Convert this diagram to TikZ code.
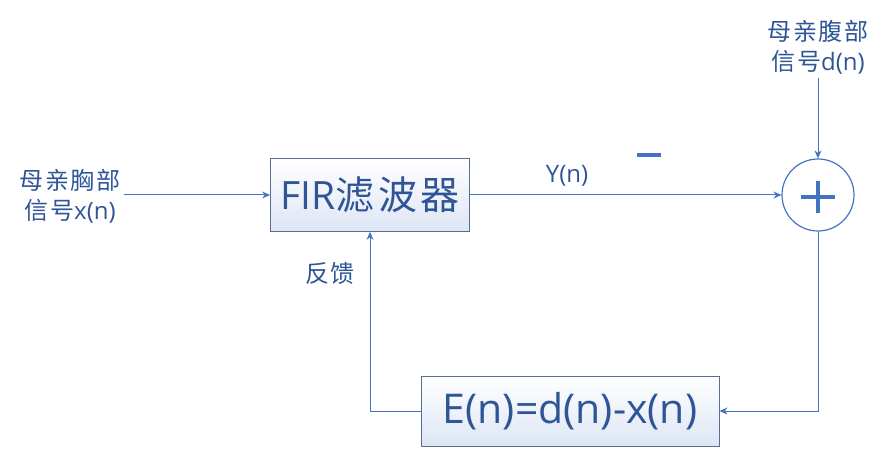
\documentclass[tikz,border=0pt]{standalone}
\usepackage{fontspec}
\setmainfont{Open Sans}
\newfontfamily\cjk{Noto Sans CJK SC}[LetterSpace=8]
\usetikzlibrary{arrows.meta}
\definecolor{ln}{HTML}{4472C4}
\definecolor{tx}{HTML}{2F5597}
\definecolor{bd}{HTML}{5A6E94}
\begin{document}
\begin{tikzpicture}[x=1pt,y=-1pt,
  box/.style={draw=bd,line width=0.8pt,top color=white,bottom color=ln!18,text=tx,inner sep=0pt},
  arr/.style={draw=ln,line width=1pt,-{Stealth[length=8pt,width=7pt]}},
  lab/.style={text=tx,font=\fontsize{24}{30}\selectfont,align=center}]
\useasboundingbox (0,0) rectangle (894,465);
\node[box,minimum width=199pt,minimum height=73pt,font=\fontsize{39}{42}\selectfont] (fir) at (370,195) {FIR{\cjk 滤波器}};
\node[draw=ln,line width=1.2pt,circle,minimum size=72pt,inner sep=0pt] (sum) at (818,195) {};
\draw[ln,line width=4pt] (818,181) -- (818,213) (801,197) -- (835,197);
\node[box,minimum width=298pt,minimum height=70pt,font=\fontsize{41}{44}\selectfont] (err) at (570,411) {E(n)=d(n)-x(n)};
\node[lab] (x) at (70,196) {{\cjk 母亲胸部}\\{\cjk 信号}x(n)};
\node[lab] (d) at (818,47) {{\cjk 母亲腹部}\\{\cjk 信号}d(n)};
\node[lab] (y) at (567,176) {Y(n)};
\node[lab] (fb) at (330,273) {\cjk 反馈};
\draw[ln,line width=4pt] (637,155) -- (661,155);
\coordinate (dt) at (818,78);
\coordinate (c1) at (818,411);
\coordinate (c2) at (370,411);
\draw[arr] (x.east|-fir) -- (fir.west);
\draw[arr] (fir.east) -- (sum.west);
\draw[arr] (dt) -- (sum.north);
\draw[arr] (sum.south) -- (c1) -- (err.east);
\draw[arr] (err.west) -- (c2) -- (fir.south);
\end{tikzpicture}
\end{document}
